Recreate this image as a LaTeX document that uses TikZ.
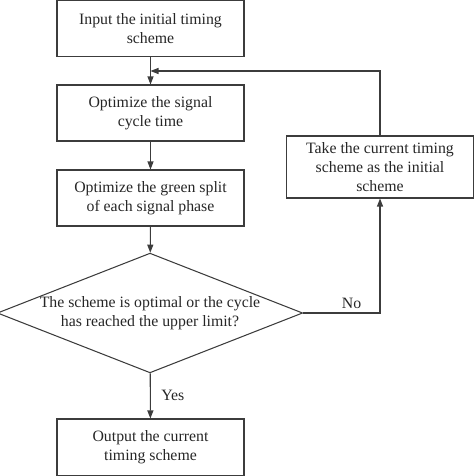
\documentclass[tikz,border=0pt]{standalone}
\usepackage{fontspec}
\setmainfont{Liberation Serif}
\usetikzlibrary{arrows.meta,positioning,shapes.geometric}
\definecolor{lgray}{RGB}{60,60,60}

\begin{document}
\begin{tikzpicture}[x=0.02cm,y=-0.02cm,
  every node/.style={font=\fontsize{9}{10.8}\selectfont,text=black!85},
  bx/.style={draw=lgray,line width=0.6pt,minimum width=3.74cm,minimum height=1.12cm,align=center,inner sep=1pt},
  dm/.style={draw=lgray,line width=0.6pt,diamond,aspect=2.55,minimum width=5.92cm,minimum height=2.32cm,inner sep=0pt,align=center},
  ar/.style={draw=lgray,line width=0.6pt,-{Triangle[length=0.16cm,width=0.12cm]}}]
\useasboundingbox (0,0) rectangle (474,476);
% main column
\node[bx] (inp) at (150.5,28.5) {Input the initial timing\\scheme};
\node[bx] (cyc) at (150.5,113) {Optimize the signal\\cycle time};
\node[bx] (spl) at (150.5,198) {Optimize the green split\\of each signal phase};
\node[dm] (dec) at (150,313) {The scheme is optimal or the cycle\\has reached the upper limit?};
\node[bx,minimum height=1.14cm] (out) at (150.5,447.5) {Output the current\\timing scheme};
% loop back
\node[bx,minimum height=1.24cm] (tak) at (380,167) {Take the current timing\\scheme as the initial\\scheme};
\coordinate (jn) at (150.5,71);
\coordinate (cr) at (380,313);

\draw[ar] (inp) -- (cyc);
\draw[ar] (cyc) -- (spl);
\draw[ar] (spl) -- (dec);
\draw[ar] (dec) -- node[right,pos=0.48,inner sep=6pt]{Yes} (out);
\draw[ar] (dec.east) -- node[above,pos=0.63,inner sep=2pt]{No} (cr) -- (tak);
\draw[ar] (tak) -- (tak |- jn) -- (jn);
\end{tikzpicture}
\end{document}
